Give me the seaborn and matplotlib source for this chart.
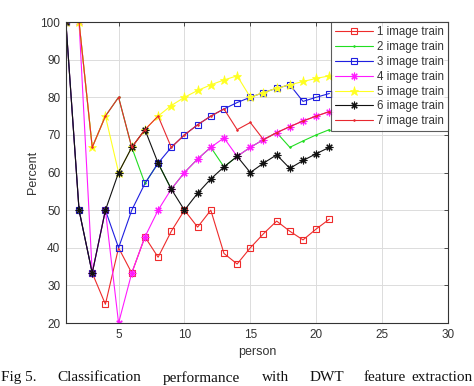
import matplotlib
matplotlib.use("Agg")
import matplotlib.pyplot as plt
import seaborn as sns
import pandas as pd

# person index and accuracy (%) for each training-set size
person = list(range(1, 22))

train1 = [100, 50, 33.3, 25, 40, 33.3, 42.9, 37.5, 44.4, 50, 45.5, 50, 38.5, 35.7,
          40, 43.75, 47.1, 44.4, 42.1, 45, 47.6]
train2 = [100, 100, 66.7, 75, 80, 66.7, 57.1, 62.5, 55.6, 60, 63.6, 66.7, 61.5, 64.3,
          66.7, 68.75, 70.6, 66.7, 68.4, 70, 71.4]
train3 = [100, 50, 33.3, 50, 40, 50, 57.1, 62.5, 66.7, 70, 72.7, 75, 76.9, 78.6,
          80, 81.25, 82.4, 83.3, 78.9, 80, 81]
train4 = [100, 100, 33.3, 50, 20, 33.3, 42.9, 50, 55.6, 60, 63.6, 66.7, 69.2, 64.3,
          66.7, 68.75, 70.6, 72.2, 73.7, 75, 76.2]
train5 = [100, 100, 66.7, 75, 60, 66.7, 71.4, 75, 77.8, 80, 81.8, 83.3, 84.6, 85.7,
          80, 81.25, 82.4, 83.3, 84.2, 85, 85.7]
train6 = [100, 50, 33.3, 50, 60, 66.7, 71.4, 62.5, 55.6, 50, 54.5, 58.3, 61.5, 64.3,
          60, 62.5, 64.7, 61.1, 63.2, 65, 66.7]
train7 = [100, 100, 66.7, 75, 80, 66.7, 71.4, 75, 66.7, 70, 72.7, 75, 76.9, 71.4,
          73.3, 68.75, 70.6, 72.2, 73.7, 75, 76.2]

labels = ["1 image train", "2 image train", "3 image train", "4 image train",
          "5 image train", "6 image train", "7 image train"]
series = [train1, train2, train3, train4, train5, train6, train7]

frames = []
for lab, vals in zip(labels, series):
    frames.append(pd.DataFrame({"person": person, "percent": vals, "series": lab}))
df = pd.concat(frames, ignore_index=True)

sns.set_theme(style="white")
plt.rcParams["font.family"] = ["Liberation Sans", "DejaVu Sans"]

colors = {
    "1 image train": "#ee2b2b",
    "2 image train": "#22dd22",
    "3 image train": "#1f1fe0",
    "4 image train": "#ff1aff",
    "5 image train": "#ffff22",
    "6 image train": "#111111",
    "7 image train": "#e8282f",
}
asterisk = (8, 2, 0)
# marker, size, face colour, edge width
mstyle = {
    "1 image train": ("s", 4.2, "none", 0.8),
    "2 image train": (".", 2.5, None, 0.5),
    "3 image train": ("s", 4.4, "none", 0.8),
    "4 image train": (asterisk, 5.5, None, 0.8),
    "5 image train": ("*", 6.5, None, 0.5),
    "6 image train": (asterisk, 5.5, None, 0.8),
    "7 image train": (".", 2.5, None, 0.5),
}

fig = plt.figure(figsize=(4.74, 3.86), dpi=100)
ax = fig.add_axes([0.139, 0.163, 0.806, 0.780])

sns.lineplot(data=df, x="person", y="percent", hue="series", hue_order=labels,
             palette=colors, estimator=None, sort=False, lw=0.8, ax=ax,
             legend=False)

lines = ax.get_lines()[:len(labels)]
for line, lab in zip(lines, labels):
    mk, ms, mfc, mew = mstyle[lab]
    line.set_marker(mk)
    line.set_markersize(ms)
    line.set_markeredgewidth(mew)
    line.set_markeredgecolor(colors[lab])
    line.set_markerfacecolor(colors[lab] if mfc is None else mfc)
    line.set_linestyle("-")
    line.set_label(lab)

ax.set_xlim(1, 30)
ax.set_ylim(20, 100)
ax.set_xticks([5, 10, 15, 20, 25, 30])
ax.set_yticks(range(20, 101, 10))
ax.grid(True, color="#dcdcdc", lw=0.7)
ax.tick_params(direction="in", top=True, right=True, length=3, width=0.6,
               labelsize=8.5, colors="#333333", pad=4)
for sp in ax.spines.values():
    sp.set_color("#333333")
    sp.set_linewidth(0.8)

ax.set_xlabel("person", fontsize=9, color="#333333", labelpad=4)
ax.set_ylabel("Percent", fontsize=9, color="#333333", labelpad=1)

leg = ax.legend(handles=lines, labels=labels, loc="upper right", borderaxespad=0,
                fontsize=8.3, frameon=True, fancybox=False, edgecolor="#333333",
                handlelength=3.3, labelspacing=0.25, borderpad=0.35,
                handletextpad=0.3)
leg.get_frame().set_linewidth(0.8)
for t in leg.get_texts():
    t.set_color("#333333")

# caption under the figure, spread across the width like the source
words = [("Fig 5.", 1), ("Classification", 57), ("performance", 163), ("with", 262),
         ("DWT", 310), ("feature", 364), ("extraction", 411)]
for w, xp in words:
    fig.text(xp / 474, 1 - 371 / 386, w, ha="left", va="top", fontsize=11,
             family=["Liberation Serif", "DejaVu Serif"], color="#111111")

fig.savefig("out.png", dpi=100)
